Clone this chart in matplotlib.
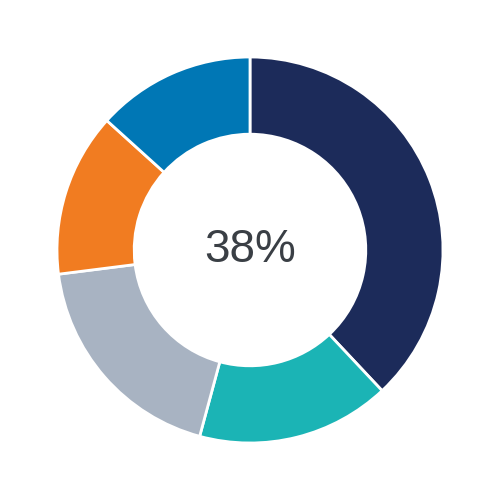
import matplotlib.pyplot as plt

# segment shares, clockwise from 12 o'clock
labels = ['A', 'B', 'C', 'D', 'E']
shares = [38, 16.2, 18.8, 13.7, 13.3]
colors = ['#1c2b5a', '#1bb4b5', '#a8b3c2', '#f17c21', '#0077b5']
center_text = '38%'

fig = plt.figure(figsize=(5, 5), dpi=100)
ax = fig.add_axes([0, 0, 1, 1])

ax.pie(shares, colors=colors, startangle=90, counterclock=False,
       radius=1.0,
       wedgeprops=dict(width=0.4, edgecolor='white', linewidth=2))

ax.text(0, 0.0, center_text, ha='center', va='center', fontsize=33,
        color='#3a3f45', family='Liberation Sans')

lim = 250 / 193
ax.set_xlim(-lim, lim)
ax.set_ylim(-lim, lim)
ax.set_aspect('equal')
ax.axis('off')

fig.savefig('out.png', dpi=100, facecolor='white')
